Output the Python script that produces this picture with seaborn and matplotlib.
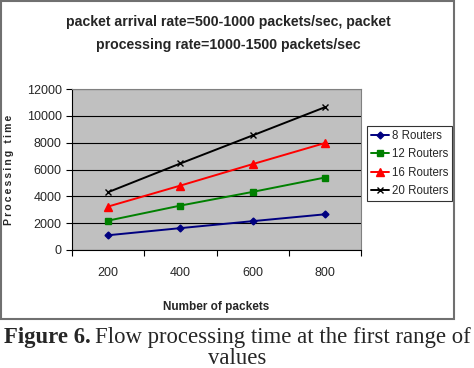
import seaborn as sns
import matplotlib.pyplot as plt
import matplotlib.patches as mpatches

# values
packets = [200, 400, 600, 800]
r8 = [1100, 1630, 2150, 2660]
r12 = [2190, 3310, 4330, 5400]
r16 = [3240, 4800, 6400, 7970]
r20 = [4310, 6450, 8540, 10640]
series = ['8 Routers', '12 Routers', '16 Routers', '20 Routers']
yticks = [0, 2000, 4000, 6000, 8000, 10000, 12000]

sns.set_style('white')
plt.rcParams['font.family'] = ['Liberation Sans', 'DejaVu Sans']

fig = plt.figure(figsize=(4.74, 3.68), dpi=100)
ax = fig.add_axes([72 / 474, 1 - 250 / 368, 289 / 474, 161 / 368])
ax.set_facecolor('#c0c0c0')

colors = ['#000080', '#008000', '#ff0000', '#000000']
markers = ['D', 's', '^', 'x']
msizes = [3.5, 4.5, 5.5, 5]

for name, vals, c, m, ms in zip(series, [r8, r12, r16, r20], colors, markers, msizes):
    sns.lineplot(x=packets, y=vals, color=c, marker=m, markersize=ms,
                 markeredgecolor=c, markeredgewidth=1, linewidth=1.4,
                 label=name, ax=ax)

ax.set_xlim(100, 900)
ax.set_ylim(0, 12000)
ax.set_yticks(yticks)
ax.set_yticklabels([str(v) for v in yticks], fontsize=9)
ax.set_xticks([100, 300, 500, 700, 900])
ax.set_xticklabels([])
ax.set_xticks(packets, minor=True)
ax.set_xticklabels([str(v) for v in packets], minor=True, fontsize=9)
ax.tick_params(axis='x', which='minor', length=0, pad=12)
ax.tick_params(axis='x', which='major', length=4, direction='out', color='black', bottom=True)
ax.tick_params(axis='y', length=4, direction='out', color='black', left=True)
ax.grid(axis='y', color='black', linewidth=0.8)
ax.set_axisbelow(True)
for side in ['top', 'right']:
    ax.spines[side].set_color('#808080')
for side in ['left', 'bottom']:
    ax.spines[side].set_color('black')

ax.set_xlabel('Number of packets', fontsize=8.5, fontweight='bold', labelpad=16)
ax.set_ylabel('\u2009'.join('Processing time'), fontsize=7.5, fontweight='bold', labelpad=9)

leg = ax.legend(loc='upper left', bbox_to_anchor=(1.02, 0.77), frameon=True,
                fancybox=False, edgecolor='black', fontsize=8.3, handlelength=1.6,
                handletextpad=0.2, borderpad=0.35, labelspacing=0.55, borderaxespad=0)
leg.get_frame().set_linewidth(0.8)

fig.text(228 / 474, 1 - 22 / 368, 'packet arrival rate=500-1000 packets/sec, packet',
         ha='center', va='center', fontsize=10.2, fontweight='bold')
fig.text(228 / 474, 1 - 45 / 368, 'processing rate=1000-1500 packets/sec',
         ha='center', va='center', fontsize=10.2, fontweight='bold')

# chart border
fig.patches.append(mpatches.Rectangle((0.002, 1 - 319 / 368), 453 / 474, 318 / 368,
                                      transform=fig.transFigure, fill=False,
                                      edgecolor='#707070', linewidth=1.5))

serif = ['Liberation Serif', 'DejaVu Serif']
t1 = fig.text(4 / 474, 1 - 337 / 368, 'Figure 6.', ha='left', va='center',
              fontsize=16.4, fontweight='bold', family=serif)
fig.canvas.draw()
bb = t1.get_window_extent()
fig.text((bb.x1 + 4) / 474, 1 - 337 / 368, 'Flow processing time at the first range of',
         ha='left', va='center', fontsize=16.4, family=serif)
fig.text(237 / 474, 1 - 358 / 368, 'values', ha='center', va='center',
         fontsize=16.4, family=serif)

fig.savefig('out.png', dpi=100)
